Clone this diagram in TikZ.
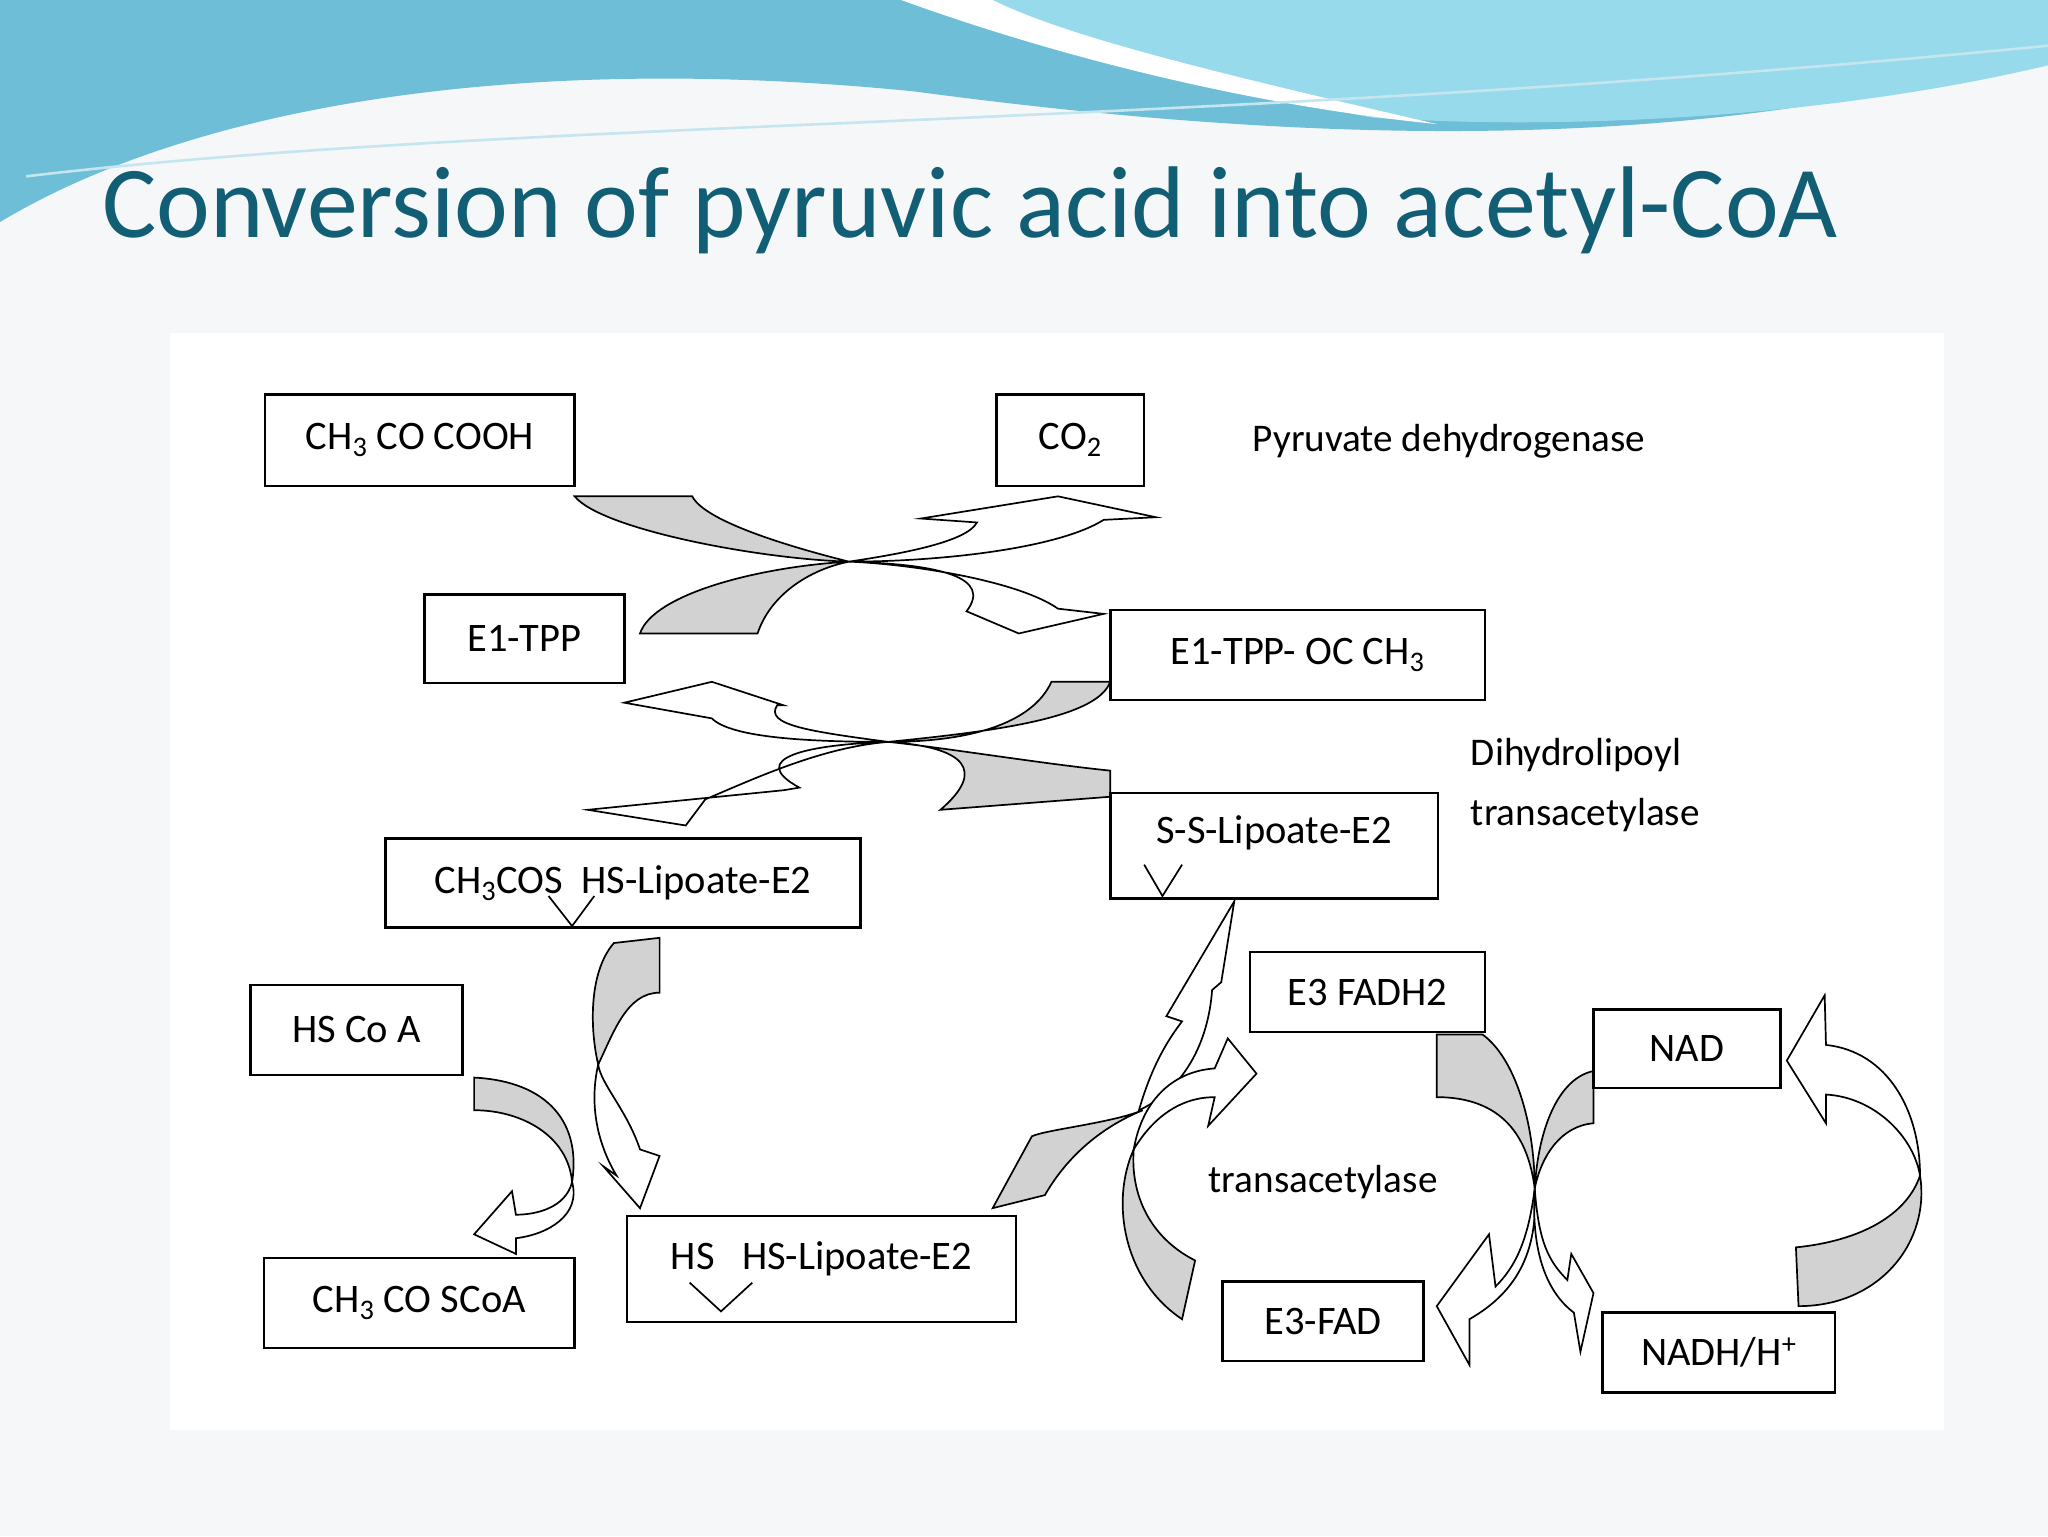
\documentclass[tikz,border=0pt]{standalone}
\usepackage{fontspec}
\setmainfont{Carlito}
\definecolor{bgc}{RGB}{245,247,249}
\definecolor{sw1}{RGB}{110,190,215}
\definecolor{sw2}{RGB}{150,218,236}
\definecolor{ttl}{RGB}{18,94,116}
\begin{document}
\begin{tikzpicture}[x=1pt,y=-1pt,
  box/.style={draw,line width=2pt,fill=white,inner sep=0pt,font=\fontsize{31}{34}\selectfont},
  lab/.style={font=\fontsize{30}{33}\selectfont,anchor=west,inner sep=0pt}]
\useasboundingbox (0,0) rectangle (1568,1176);
\fill[bgc] (0,0) rectangle (1568,1176);
% top swoosh
\fill[sw1] (0,0) -- (1568,0) -- (1568,40) .. controls (1300,120) and (1000,110) .. (700,70) .. controls (400,40) and (150,80) .. (0,170) -- cycle;
\fill[sw2] (700,0) -- (1568,0) -- (1568,50) .. controls (1400,90) and (1200,100) .. (1050,90) .. controls (900,60) and (780,30) .. (700,0) -- cycle;
\fill[white] (690,0) .. controls (800,40) and (950,80) .. (1100,95) .. controls (950,60) and (820,30) .. (760,0) -- cycle;
\draw[white!60!sw1,line width=2pt] (20,135) .. controls (400,90) and (900,100) .. (1568,35);
\node[anchor=base west,inner sep=0pt,font=\fontsize{78}{88}\selectfont,text=ttl] (title) at (78,182) {Conversion of pyruvic acid into acetyl-CoA};
\fill[white] (130,255) rectangle (1488,1095);
% top crossing grey
\path[fill=gray!35,draw,line width=1.3pt] (440,380) .. controls (460,405) and (580,428) .. (650,430) .. controls (580,434) and (500,455) .. (490,485) -- (580,485) .. controls (590,455) and (620,436) .. (650,430) .. controls (610,420) and (540,400) .. (530,380) -- cycle;
% top crossing white
\path[fill=white,draw,line width=1.3pt] (650,430) .. controls (690,424) and (740,415) .. (748,400) -- (705,397) -- (810,380) -- (885,396) -- (845,398) .. controls (810,420) and (720,430) .. (650,430) .. controls (720,432) and (760,442) .. (740,468) -- (780,485) -- (845,470) -- (810,466) .. controls (780,445) and (700,432) .. (650,430) -- cycle;
% second crossing grey
\path[fill=gray!35,draw,line width=1.3pt] (850,522) -- (805,522) .. controls (790,555) and (740,568) .. (680,568) .. controls (740,572) and (755,590) .. (720,620) -- (850,610) -- (850,590) .. controls (800,585) and (720,572) .. (680,568) .. controls (760,560) and (840,550) .. (850,522) -- cycle;
% second crossing white
\path[fill=white,draw,line width=1.3pt] (680,568) .. controls (620,560) and (585,555) .. (595,540) -- (600,540) -- (545,522) -- (478,538) -- (545,550) .. controls (560,565) and (620,568) .. (680,568) .. controls (620,570) and (570,580) .. (612,603) -- (600,605) -- (450,620) -- (525,632) -- (540,612) .. controls (580,595) and (630,572) .. (680,568) -- cycle;
% left middle
\path[fill=gray!35,draw,line width=1.3pt] (505,718) -- (470,722) .. controls (450,745) and (452,790) .. (458,815) .. controls (470,790) and (480,760) .. (505,760) -- cycle;
\path[fill=white,draw,line width=1.3pt] (458,815) .. controls (450,850) and (460,880) .. (472,900) -- (462,893) -- (490,925) -- (505,885) -- (490,880) .. controls (480,850) and (460,830) .. (458,815) -- cycle;
% HS Co A
\path[fill=gray!35,draw,line width=1.3pt] (363,825) -- (363,850) .. controls (400,850) and (435,870) .. (438,905) .. controls (445,860) and (420,828) .. (363,825) -- cycle;
\path[fill=white,draw,line width=1.3pt] (438,905) .. controls (433,925) and (410,930) .. (395,930) -- (392,912) -- (363,945) -- (395,960) -- (395,948) .. controls (420,945) and (445,930) .. (438,905) -- cycle;
% bottom middle
\path[fill=gray!35,draw,line width=1.3pt] (760,925) -- (800,915) .. controls (820,880) and (850,860) .. (875,850) .. controls (850,860) and (800,865) .. (790,870) -- cycle;
\path[fill=white,draw,line width=1.3pt] (872,850) .. controls (882,815) and (895,795) .. (905,782) -- (893,778) -- (945,690) -- (935,752) -- (928,758) .. controls (925,800) and (905,835) .. (872,850) -- cycle;
\path[fill=white,draw,line width=1.3pt] (868,880) .. controls (875,840) and (900,820) .. (930,818) -- (940,795) -- (962,822) -- (925,862) -- (930,840) .. controls (900,840) and (880,860) .. (868,880) -- cycle;
\path[fill=gray!35,draw,line width=1.3pt] (868,880) .. controls (850,920) and (860,980) .. (905,1010) -- (915,965) .. controls (885,950) and (865,920) .. (868,880) -- cycle;
% right crossing
\path[fill=gray!35,draw,line width=1.3pt] (1100,792) -- (1135,792) .. controls (1160,810) and (1175,860) .. (1175,910) .. controls (1170,870) and (1150,840) .. (1100,840) -- cycle;
\path[fill=gray!35,draw,line width=1.3pt] (1220,820) -- (1220,860) .. controls (1195,862) and (1180,885) .. (1175,910) .. controls (1178,860) and (1195,825) .. (1220,820) -- cycle;
\path[fill=white,draw,line width=1.3pt] (1175,910) .. controls (1170,950) and (1160,970) .. (1145,985) -- (1140,945) -- (1100,1000) -- (1125,1045) -- (1125,1010) .. controls (1160,990) and (1178,960) .. (1175,910) -- cycle;
\path[fill=white,draw,line width=1.3pt] (1175,910) .. controls (1178,950) and (1185,965) .. (1200,980) -- (1203,960) -- (1220,990) -- (1210,1035) -- (1205,1005) .. controls (1185,990) and (1172,960) .. (1175,910) -- cycle;
% far right
\path[fill=white,draw,line width=1.3pt] (1470,900) .. controls (1470,850) and (1445,805) .. (1398,800) -- (1397,762) -- (1368,812) -- (1398,860) -- (1398,838) .. controls (1435,840) and (1465,870) .. (1470,900) -- cycle;
\path[fill=gray!35,draw,line width=1.3pt] (1470,900) .. controls (1478,950) and (1440,1000) .. (1377,1000) -- (1375,955) .. controls (1425,950) and (1460,930) .. (1470,900) -- cycle;
% boxes
\node[box,minimum width=237pt,minimum height=70pt] (pyr) at (321.5,337) {CH\textsubscript{3} CO COOH};
\node[box,minimum width=113pt,minimum height=70pt] (co2) at (819.5,337) {CO\textsubscript{2}};
\node[box,minimum width=153pt,minimum height=68pt] (e1) at (401.5,489) {E1-TPP};
\node[box,minimum width=287pt,minimum height=69pt] (e1ac) at (993.5,501.5) {E1-TPP- OC CH\textsubscript{3}};
\node[box,minimum width=251pt,minimum height=81pt,text depth=25pt] (ss) at (975.5,647.5) {S-S-Lipoate-E2};
\draw[line width=1.3pt] (876,662) -- (890,686) -- (905,662);
\node[box,minimum width=364pt,minimum height=68pt] (acl) at (477,676) {CH\textsubscript{3}COS\ \ HS-Lipoate-E2};
\draw[line width=1.3pt] (420,686) -- (438,709) -- (455,686);
\node[box,minimum width=162pt,minimum height=69pt] (hscoa) at (273,788.5) {HS Co A};
\node[box,minimum width=180pt,minimum height=61pt] (fadh) at (1047,759.5) {E3 FADH2};
\node[box,minimum width=143pt,minimum height=60pt] (nad) at (1291.5,803) {NAD};
\node[box,minimum width=298pt,minimum height=81pt,text depth=20pt] (hs) at (629,971.5) {HS\ \ \ HS-Lipoate-E2};
\draw[line width=1.3pt] (528,982) -- (552,1004) -- (576,982);
\node[box,minimum width=238pt,minimum height=69pt] (acoa) at (321,997.5) {CH\textsubscript{3} CO SCoA};
\node[box,minimum width=154pt,minimum height=61pt] (fad) at (1013,1011.5) {E3-FAD};
\node[box,minimum width=178pt,minimum height=61pt] (nadh) at (1316,1035.5) {NADH/H\textsuperscript{+}};
\node[lab] (pdh) at (959,338) {Pyruvate dehydrogenase};
\node[lab] (dl) at (1126,578) {Dihydrolipoyl};
\node[lab] (ta) at (1126,624) {transacetylase};
\node[lab,anchor=center] (ta2) at (1013,905) {transacetylase};
\end{tikzpicture}
\end{document}
